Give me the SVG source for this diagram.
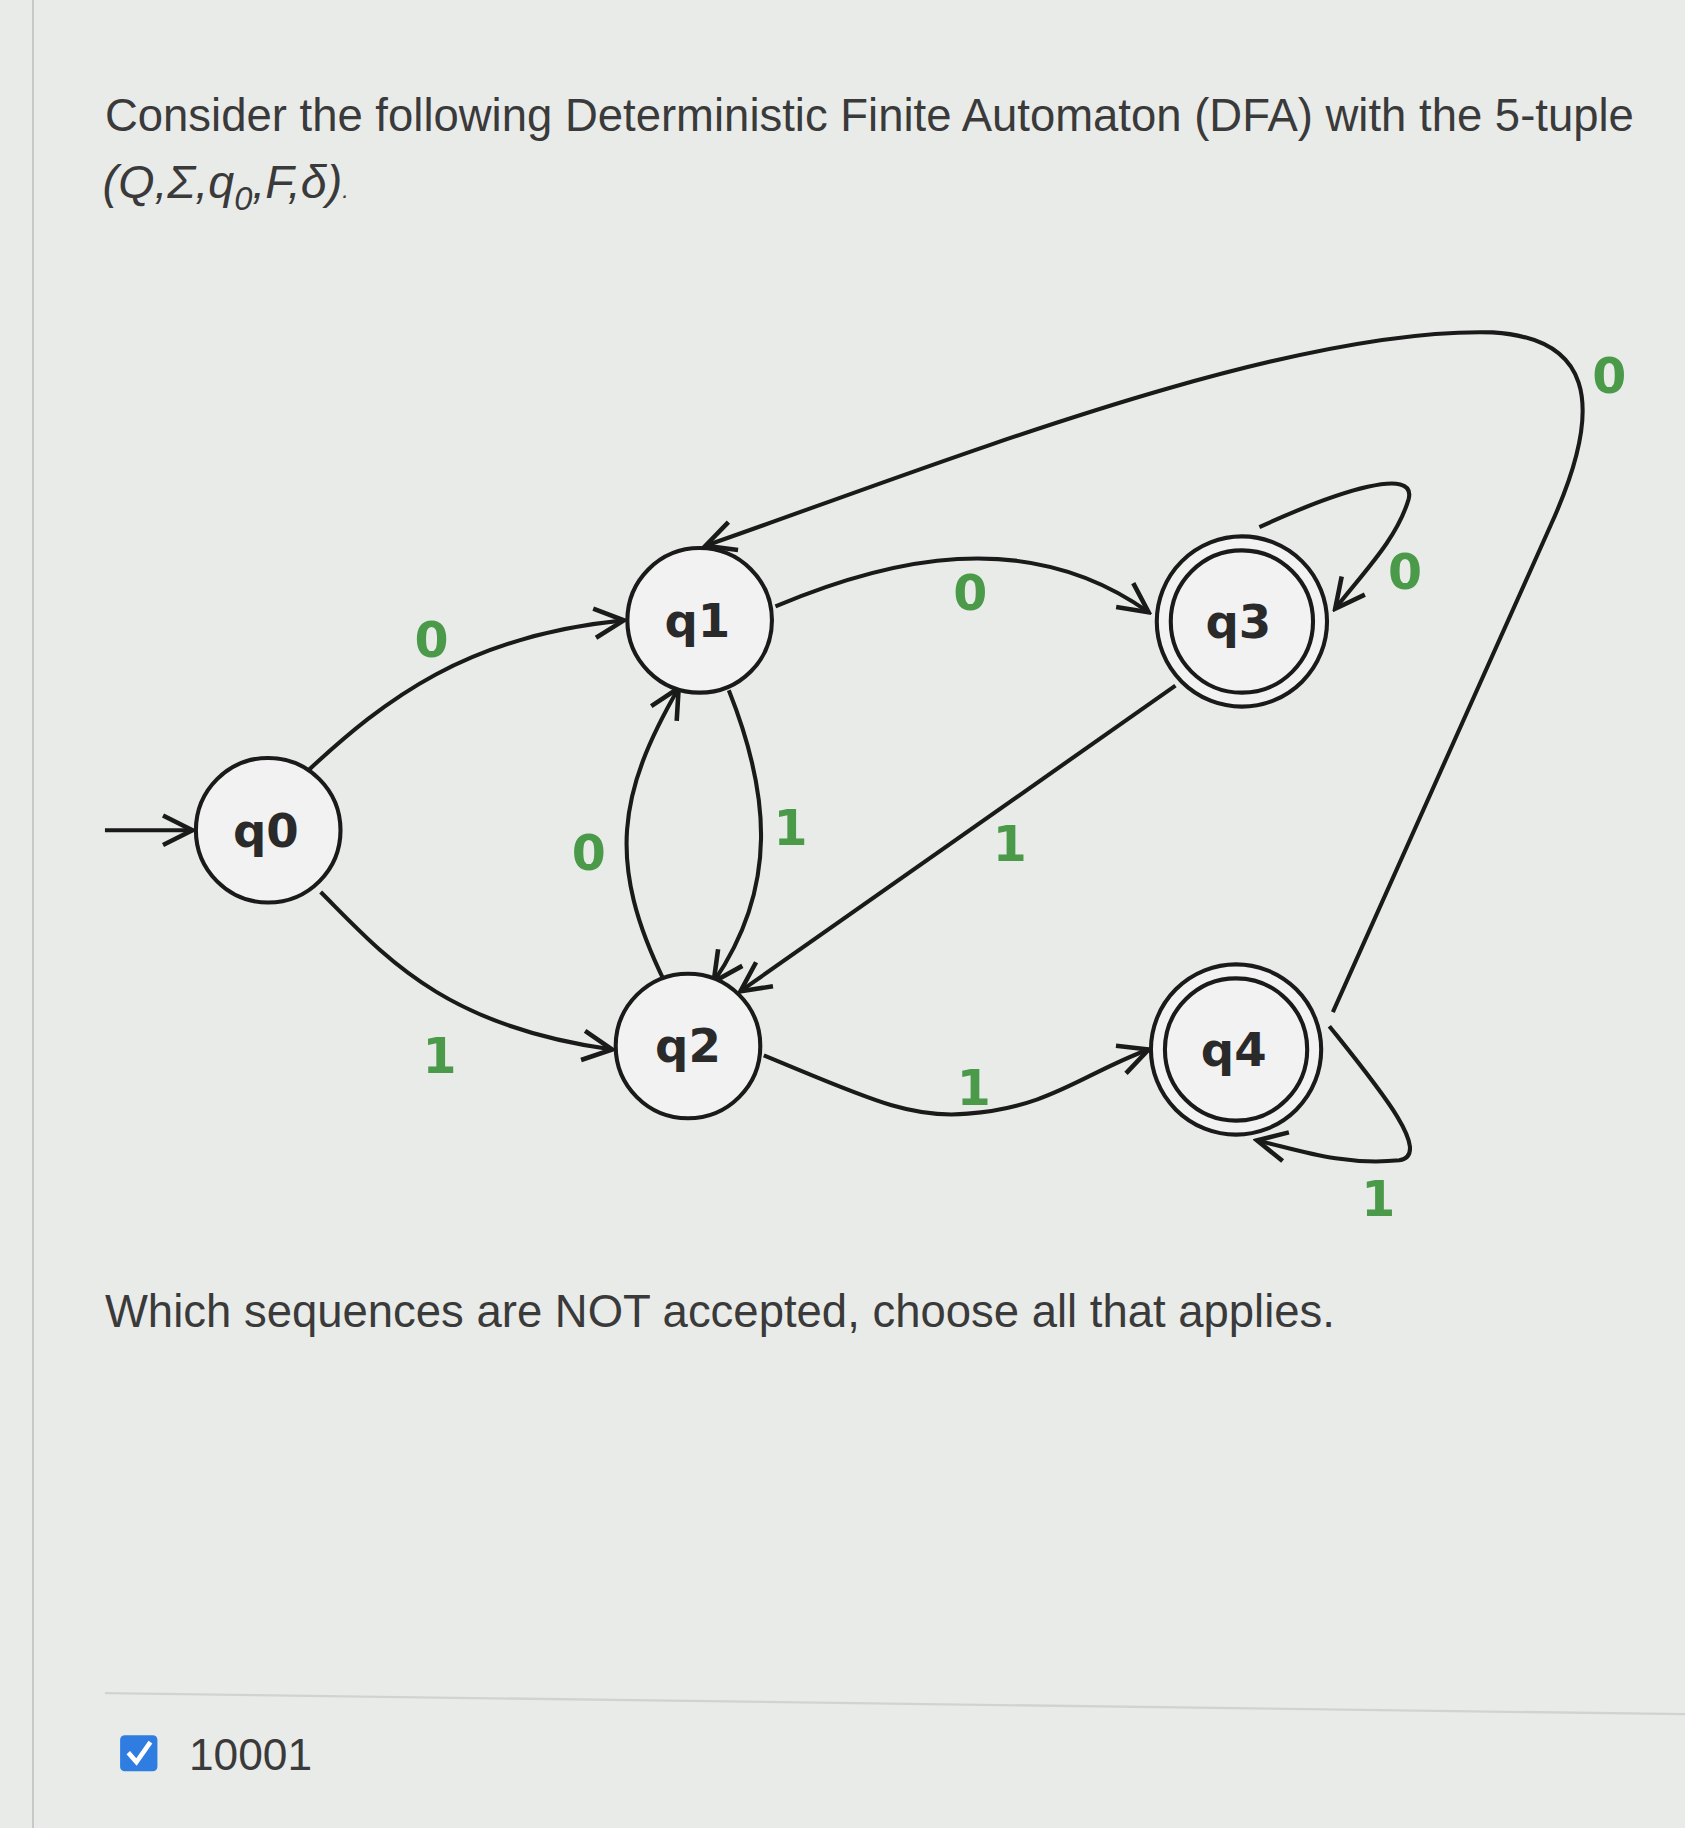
<svg xmlns="http://www.w3.org/2000/svg" width="1685" height="1828" viewBox="0 0 1685 1828">
<defs>
<style>
.t{font-family:"Liberation Sans",Arial,sans-serif;fill:#3a3a3a}
.n{font-family:"DejaVu Sans",sans-serif;font-weight:bold;font-size:40px;fill:#2a2a2a;text-anchor:middle}
.l{font-family:"DejaVu Sans",sans-serif;font-weight:bold;font-size:42px;fill:#4a9a4a;text-anchor:middle}
.c{fill:#f2f2f2;stroke:#1a1a1a;stroke-width:3.5}
.e{fill:none;stroke:#1a1a1a;stroke-width:3.5;marker-end:url(#a)}
</style>
<marker id="a" viewBox="0 0 20 20" refX="18" refY="10" markerWidth="9" markerHeight="9" markerUnits="strokeWidth" orient="auto">
<path d="M2,2 L18,10 L2,18" fill="none" stroke="#1a1a1a" stroke-width="2.5"/>
</marker>
</defs>
<rect width="1685" height="1828" fill="#e9ebe9"/>
<line x1="33" y1="0" x2="33" y2="1828" stroke="#c8c8c8" stroke-width="2"/>
<g transform="scale(1.1661)">
<text class="t" x="90" y="112" font-size="39">Consider the following Deterministic Finite Automaton (DFA) with the 5-tuple</text>
<text class="t" x="88" y="170" font-size="40" font-style="italic">(Q,Σ,q<tspan font-size="28" dy="10">0</tspan><tspan dy="-10">,F,δ)</tspan><tspan font-size="20">.</tspan></text>
<g id="edges">
<path class="e" d="M90,712 L165,712"/>
<path class="e" d="M265,660 C330,600 400,545 535,532"/>
<path class="e" d="M275,765 C330,820 380,880 525,900"/>
<path class="e" d="M665,520 C760,480 880,450 985,525"/>
<path class="e" d="M625,592 C660,680 668,760 612,842"/>
<path class="e" d="M570,842 C520,740 530,680 582,590"/>
<path class="e" d="M1008,588 L635,850"/>
<path class="e" d="M655,905 C740,940 780,960 830,955 C900,950 930,920 985,900"/>
<path class="e" d="M1143,868 L1330,450 C1380,340 1360,290 1280,285 C1100,280 800,400 605,468"/>
<path class="e" d="M1080,452 C1150,420 1215,400 1208,428 C1198,462 1170,490 1145,522"/>
<path class="e" d="M1140,880 C1180,930 1230,990 1200,995 C1150,1000 1110,985 1078,978"/>
</g>
<g id="q0"><circle class="c" cx="230" cy="712" r="62"/><text class="n" x="228" y="726">q0</text></g>
<g id="q1"><circle class="c" cx="600" cy="532" r="62"/><text class="n" x="598" y="546">q1</text></g>
<g id="q2"><circle class="c" cx="590" cy="897" r="62"/><text class="n" x="590" y="911">q2</text></g>
<g id="q3"><circle class="c" cx="1065" cy="533" r="73"/><circle class="c" cx="1065" cy="533" r="61"/><text class="n" x="1062" y="547">q3</text></g>
<g id="q4"><circle class="c" cx="1060" cy="900" r="73"/><circle class="c" cx="1060" cy="900" r="61"/><text class="n" x="1058" y="914">q4</text></g>
<g id="labels">
<text class="l" x="370" y="563">0</text>
<text class="l" x="377" y="920">1</text>
<text class="l" x="505" y="746">0</text>
<text class="l" x="678" y="725">1</text>
<text class="l" x="832" y="523">0</text>
<text class="l" x="866" y="738">1</text>
<text class="l" x="1205" y="505">0</text>
<text class="l" x="1380" y="337">0</text>
<text class="l" x="835" y="948">1</text>
<text class="l" x="1182" y="1043">1</text>
</g>
<text class="t" x="90" y="1138" font-size="39">Which sequences are NOT accepted, choose all that applies.</text>
<line x1="90" y1="1452" x2="1445" y2="1470" stroke="#d2d2d2" stroke-width="2"/>
<rect x="103" y="1488" width="32" height="31" rx="4" fill="#2f7de1"/>
<path d="M110,1503 L117,1511 L129,1494" fill="none" stroke="#fff" stroke-width="4"/>
<text class="t" x="162" y="1518" font-size="38">10001</text>
</g>
</svg>
